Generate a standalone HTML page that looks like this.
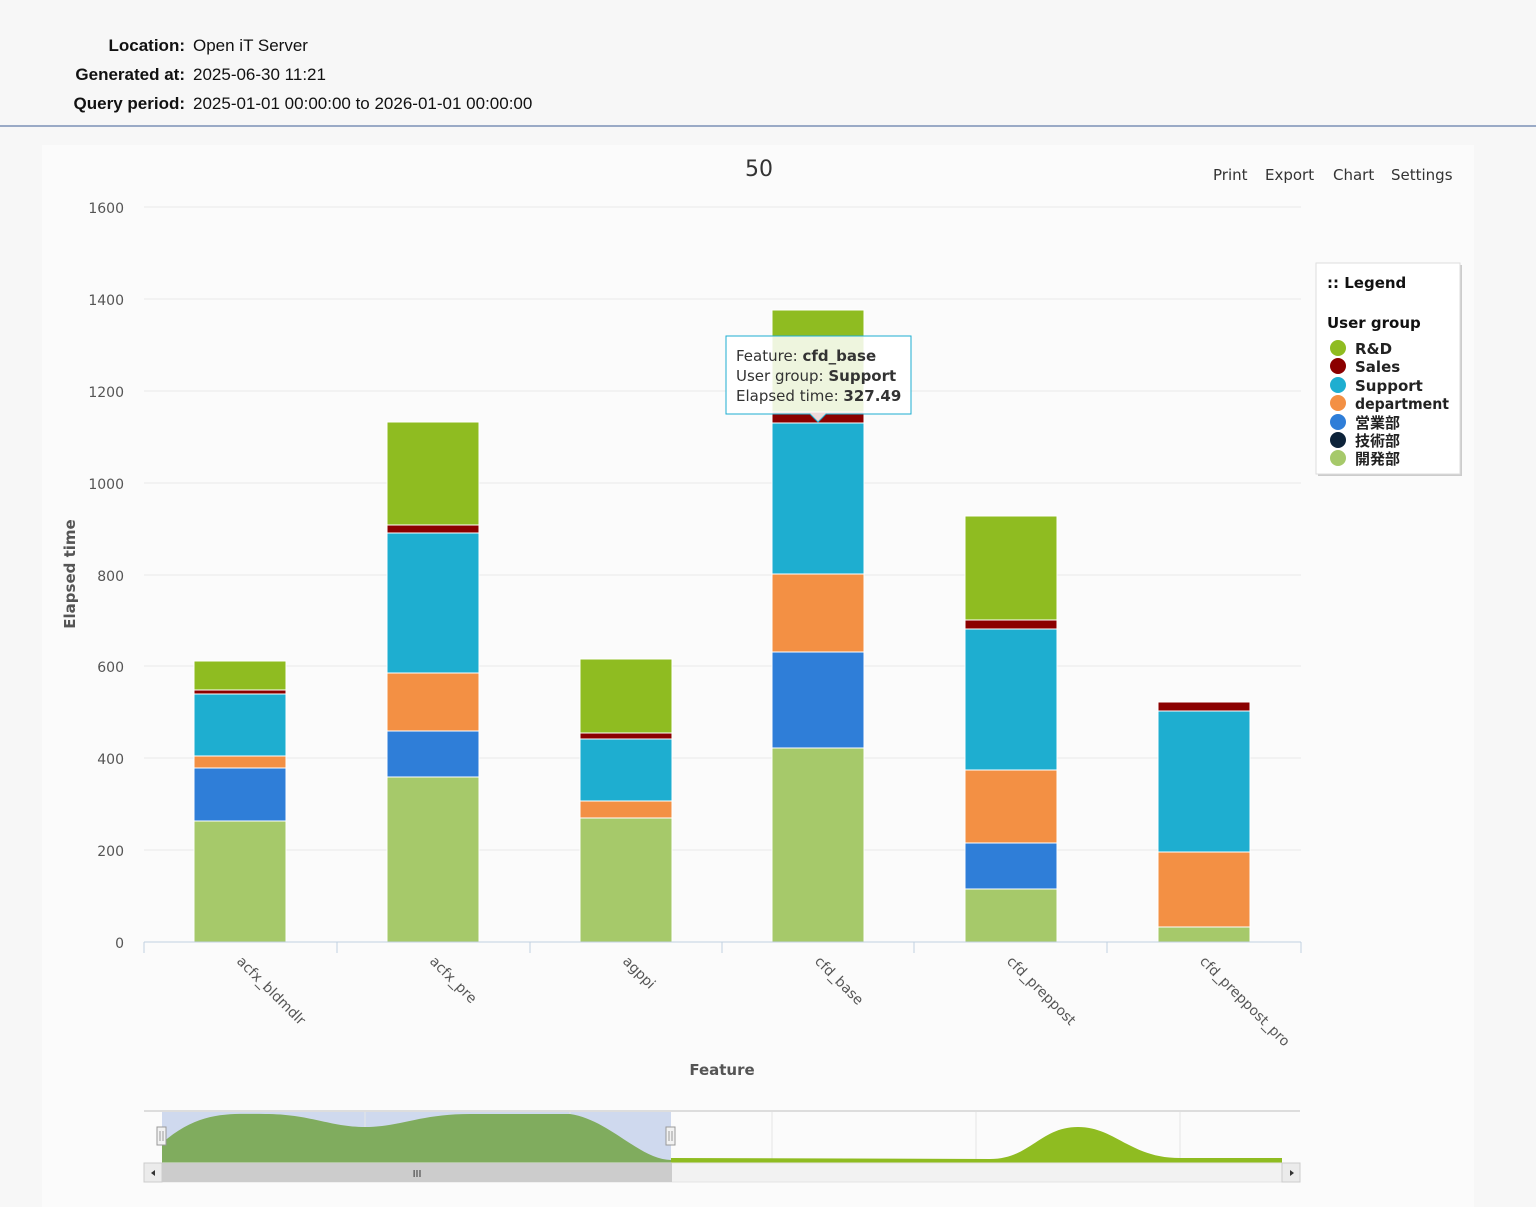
<!DOCTYPE html>
<html><head><meta charset="utf-8"><style>
body{margin:0;background:#f7f7f7;width:1536px;height:1207px;overflow:hidden;font-family:"DejaVu Sans","Liberation Sans","Noto Sans CJK JP",sans-serif;}
</style></head><body>
<svg width="1536" height="1207" xmlns="http://www.w3.org/2000/svg" style="position:absolute;left:0;top:0;font-family:'DejaVu Sans','Noto Sans CJK JP',sans-serif">
<rect width="1536" height="1207" fill="#f7f7f7"/>
<g font-family="Liberation Sans, sans-serif" font-size="17" fill="#111">
<text x="185" y="51" text-anchor="end" font-weight="bold">Location:</text><text x="193" y="51">Open iT Server</text>
<text x="185" y="80" text-anchor="end" font-weight="bold">Generated at:</text><text x="193" y="80">2025-06-30 11:21</text>
<text x="185" y="109" text-anchor="end" font-weight="bold">Query period:</text><text x="193" y="109">2025-01-01 00:00:00 to 2026-01-01 00:00:00</text>
</g>
<rect x="0" y="125" width="1536" height="2" fill="#9aaac6"/>
<rect x="42" y="145" width="1432" height="1062" fill="#fbfbfb"/>
<text x="759" y="176" text-anchor="middle" font-size="22" fill="#333">50</text>
<g font-size="15" fill="#333"><text x="1213" y="180">Print</text><text x="1265" y="180">Export</text><text x="1333" y="180">Chart</text><text x="1391" y="180">Settings</text></g>
<g stroke="#e8e8e8" stroke-width="1">
<line x1="144" x2="1301" y1="207" y2="207"/><line x1="144" x2="1301" y1="299" y2="299"/><line x1="144" x2="1301" y1="391" y2="391"/><line x1="144" x2="1301" y1="483" y2="483"/><line x1="144" x2="1301" y1="575" y2="575"/><line x1="144" x2="1301" y1="666" y2="666"/><line x1="144" x2="1301" y1="758" y2="758"/><line x1="144" x2="1301" y1="850" y2="850"/>
</g>
<g font-size="14" fill="#555" text-anchor="end">
<text x="124" y="213">1600</text><text x="124" y="305">1400</text><text x="124" y="397">1200</text><text x="124" y="489">1000</text><text x="124" y="581">800</text><text x="124" y="672">600</text><text x="124" y="764">400</text><text x="124" y="856">200</text><text x="124" y="948">0</text>
</g>
<text transform="translate(75,574) rotate(-90)" text-anchor="middle" font-size="15" font-weight="bold" fill="#555">Elapsed time</text>
<g stroke="#fff" stroke-width="1">
<rect x="194" y="821" width="92" height="121" fill="#a6c96a"/><rect x="194" y="768" width="92" height="53" fill="#2f7ed8"/><rect x="194" y="756" width="92" height="12" fill="#f39044"/><rect x="194" y="694" width="92" height="62" fill="#1eaed0"/><rect x="194" y="690" width="92" height="4" fill="#8b0000"/><rect x="194" y="661" width="92" height="29" fill="#8fbc21"/>
<rect x="387" y="777" width="92" height="165" fill="#a6c96a"/><rect x="387" y="731" width="92" height="46" fill="#2f7ed8"/><rect x="387" y="673" width="92" height="58" fill="#f39044"/><rect x="387" y="533" width="92" height="140" fill="#1eaed0"/><rect x="387" y="525" width="92" height="8" fill="#8b0000"/><rect x="387" y="422" width="92" height="103" fill="#8fbc21"/>
<rect x="580" y="818" width="92" height="124" fill="#a6c96a"/><rect x="580" y="801" width="92" height="17" fill="#f39044"/><rect x="580" y="739" width="92" height="62" fill="#1eaed0"/><rect x="580" y="733" width="92" height="6" fill="#8b0000"/><rect x="580" y="659" width="92" height="74" fill="#8fbc21"/>
<rect x="772" y="748" width="92" height="194" fill="#a6c96a"/><rect x="772" y="652" width="92" height="96" fill="#2f7ed8"/><rect x="772" y="574" width="92" height="78" fill="#f39044"/><rect x="772" y="423" width="92" height="151" fill="#1eaed0"/><rect x="772" y="412" width="92" height="11" fill="#8b0000"/><rect x="772" y="310" width="92" height="102" fill="#8fbc21"/>
<rect x="965" y="889" width="92" height="53" fill="#a6c96a"/><rect x="965" y="843" width="92" height="46" fill="#2f7ed8"/><rect x="965" y="770" width="92" height="73" fill="#f39044"/><rect x="965" y="629" width="92" height="141" fill="#1eaed0"/><rect x="965" y="620" width="92" height="9" fill="#8b0000"/><rect x="965" y="516" width="92" height="104" fill="#8fbc21"/>
<rect x="1158" y="927" width="92" height="15" fill="#a6c96a"/><rect x="1158" y="852" width="92" height="75" fill="#f39044"/><rect x="1158" y="711" width="92" height="141" fill="#1eaed0"/><rect x="1158" y="702" width="92" height="9" fill="#8b0000"/>
</g>
<line x1="144" x2="1301" y1="942" y2="942" stroke="#c0d0e0"/>
<g stroke="#c0d0e0"><line x1="144" x2="144" y1="942" y2="953"/><line x1="337" x2="337" y1="942" y2="953"/><line x1="530" x2="530" y1="942" y2="953"/><line x1="722" x2="722" y1="942" y2="953"/><line x1="914" x2="914" y1="942" y2="953"/><line x1="1107" x2="1107" y1="942" y2="953"/><line x1="1301" x2="1301" y1="942" y2="953"/></g>
<g font-size="14" fill="#555">
<text transform="translate(236,962) rotate(45)">acfx_bldmdlr</text>
<text transform="translate(429,962) rotate(45)">acfx_pre</text>
<text transform="translate(622,962) rotate(45)">agppi</text>
<text transform="translate(814,962) rotate(45)">cfd_base</text>
<text transform="translate(1006,962) rotate(45)">cfd_preppost</text>
<text transform="translate(1199,962) rotate(45)">cfd_preppost_pro</text>
</g>
<text x="722" y="1075" text-anchor="middle" font-size="15" font-weight="bold" fill="#555">Feature</text>
<path d="M726 336 H911 V414 H826 L818 422 L810 414 H726 Z" fill="rgba(255,255,255,0.85)" stroke="#1eaed0"/>
<g font-size="15" fill="#333"><text x="736" y="361">Feature: <tspan font-weight="bold">cfd_base</tspan></text><text x="736" y="381">User group: <tspan font-weight="bold">Support</tspan></text><text x="736" y="401">Elapsed time: <tspan font-weight="bold">327.49</tspan></text></g>
<rect x="1318" y="265" width="144" height="211" fill="#ccc"/>
<rect x="1316" y="263" width="144" height="211" fill="#fff" stroke="#ddd"/>
<g font-size="15" fill="#111" font-weight="bold">
<text x="1327" y="288">:: Legend</text>
<text x="1327" y="328">User group</text>
<g font-family="DejaVu Sans, Noto Sans CJK JP, sans-serif" fill="#222">
<circle cx="1338" cy="348" r="8" fill="#8fbc21"/><text x="1355" y="354">R&amp;D</text>
<circle cx="1338" cy="366" r="8" fill="#8b0000"/><text x="1355" y="372">Sales</text>
<circle cx="1338" cy="385" r="8" fill="#1eaed0"/><text x="1355" y="391">Support</text>
<circle cx="1338" cy="403" r="8" fill="#f39044"/><text x="1355" y="409" textLength="94" lengthAdjust="spacingAndGlyphs">department</text>
<circle cx="1338" cy="422" r="8" fill="#2f7ed8"/><text x="1355" y="428">営業部</text>
<circle cx="1338" cy="440" r="8" fill="#0d233a"/><text x="1355" y="446">技術部</text>
<circle cx="1338" cy="458" r="8" fill="#a6c96a"/><text x="1355" y="464">開発部</text>
</g></g>
<line x1="144" x2="1300" y1="1111" y2="1111" stroke="#ddd" stroke-width="2"/>
<rect x="162" y="1112" width="509" height="51" fill="#cfd9ee"/>
<g stroke="#e6e6e6"><line x1="365" x2="365" y1="1112" y2="1163"/><line x1="570" x2="570" y1="1112" y2="1163"/><line x1="772" x2="772" y1="1112" y2="1163"/><line x1="976" x2="976" y1="1112" y2="1163"/><line x1="1180" x2="1180" y1="1112" y2="1163"/></g>
<path d="M162 1143 C200 1110,230 1114,265 1114 C310 1114,330 1127,365 1127 C400 1127,420 1114,470 1114 L570 1114 C610 1120,640 1160,671 1160 L671 1163 L162 1163 Z" fill="#80ac5e"/>
<path d="M671 1158 L990 1159 C1030 1159,1040 1127,1078 1127 C1115 1127,1130 1158,1180 1158 L1282 1158 L1282 1163 L671 1163 Z" fill="#8fbc21"/>
<rect x="144" y="1163" width="1156" height="19" fill="#f2f2f2" stroke="#e4e4e4"/>
<rect x="162" y="1163" width="510" height="19" fill="#cccccc"/>
<text x="417" y="1177" text-anchor="middle" font-size="10" fill="#333">III</text>
<rect x="144" y="1163" width="18" height="19" fill="#ebebeb" stroke="#ccc"/><path d="M155 1170 L151 1173 L155 1176Z" fill="#333"/>
<rect x="1282" y="1163" width="18" height="19" fill="#ebebeb" stroke="#ccc"/><path d="M1290 1170 L1294 1173 L1290 1176Z" fill="#333"/>
<rect x="157" y="1127" width="9" height="18" fill="#f2f2f2" stroke="#999"/><line x1="160" x2="160" y1="1131" y2="1141" stroke="#999"/><line x1="163" x2="163" y1="1131" y2="1141" stroke="#999"/>
<rect x="666" y="1127" width="9" height="18" fill="#f2f2f2" stroke="#999"/><line x1="669" x2="669" y1="1131" y2="1141" stroke="#999"/><line x1="672" x2="672" y1="1131" y2="1141" stroke="#999"/>
</svg>
</body></html>
